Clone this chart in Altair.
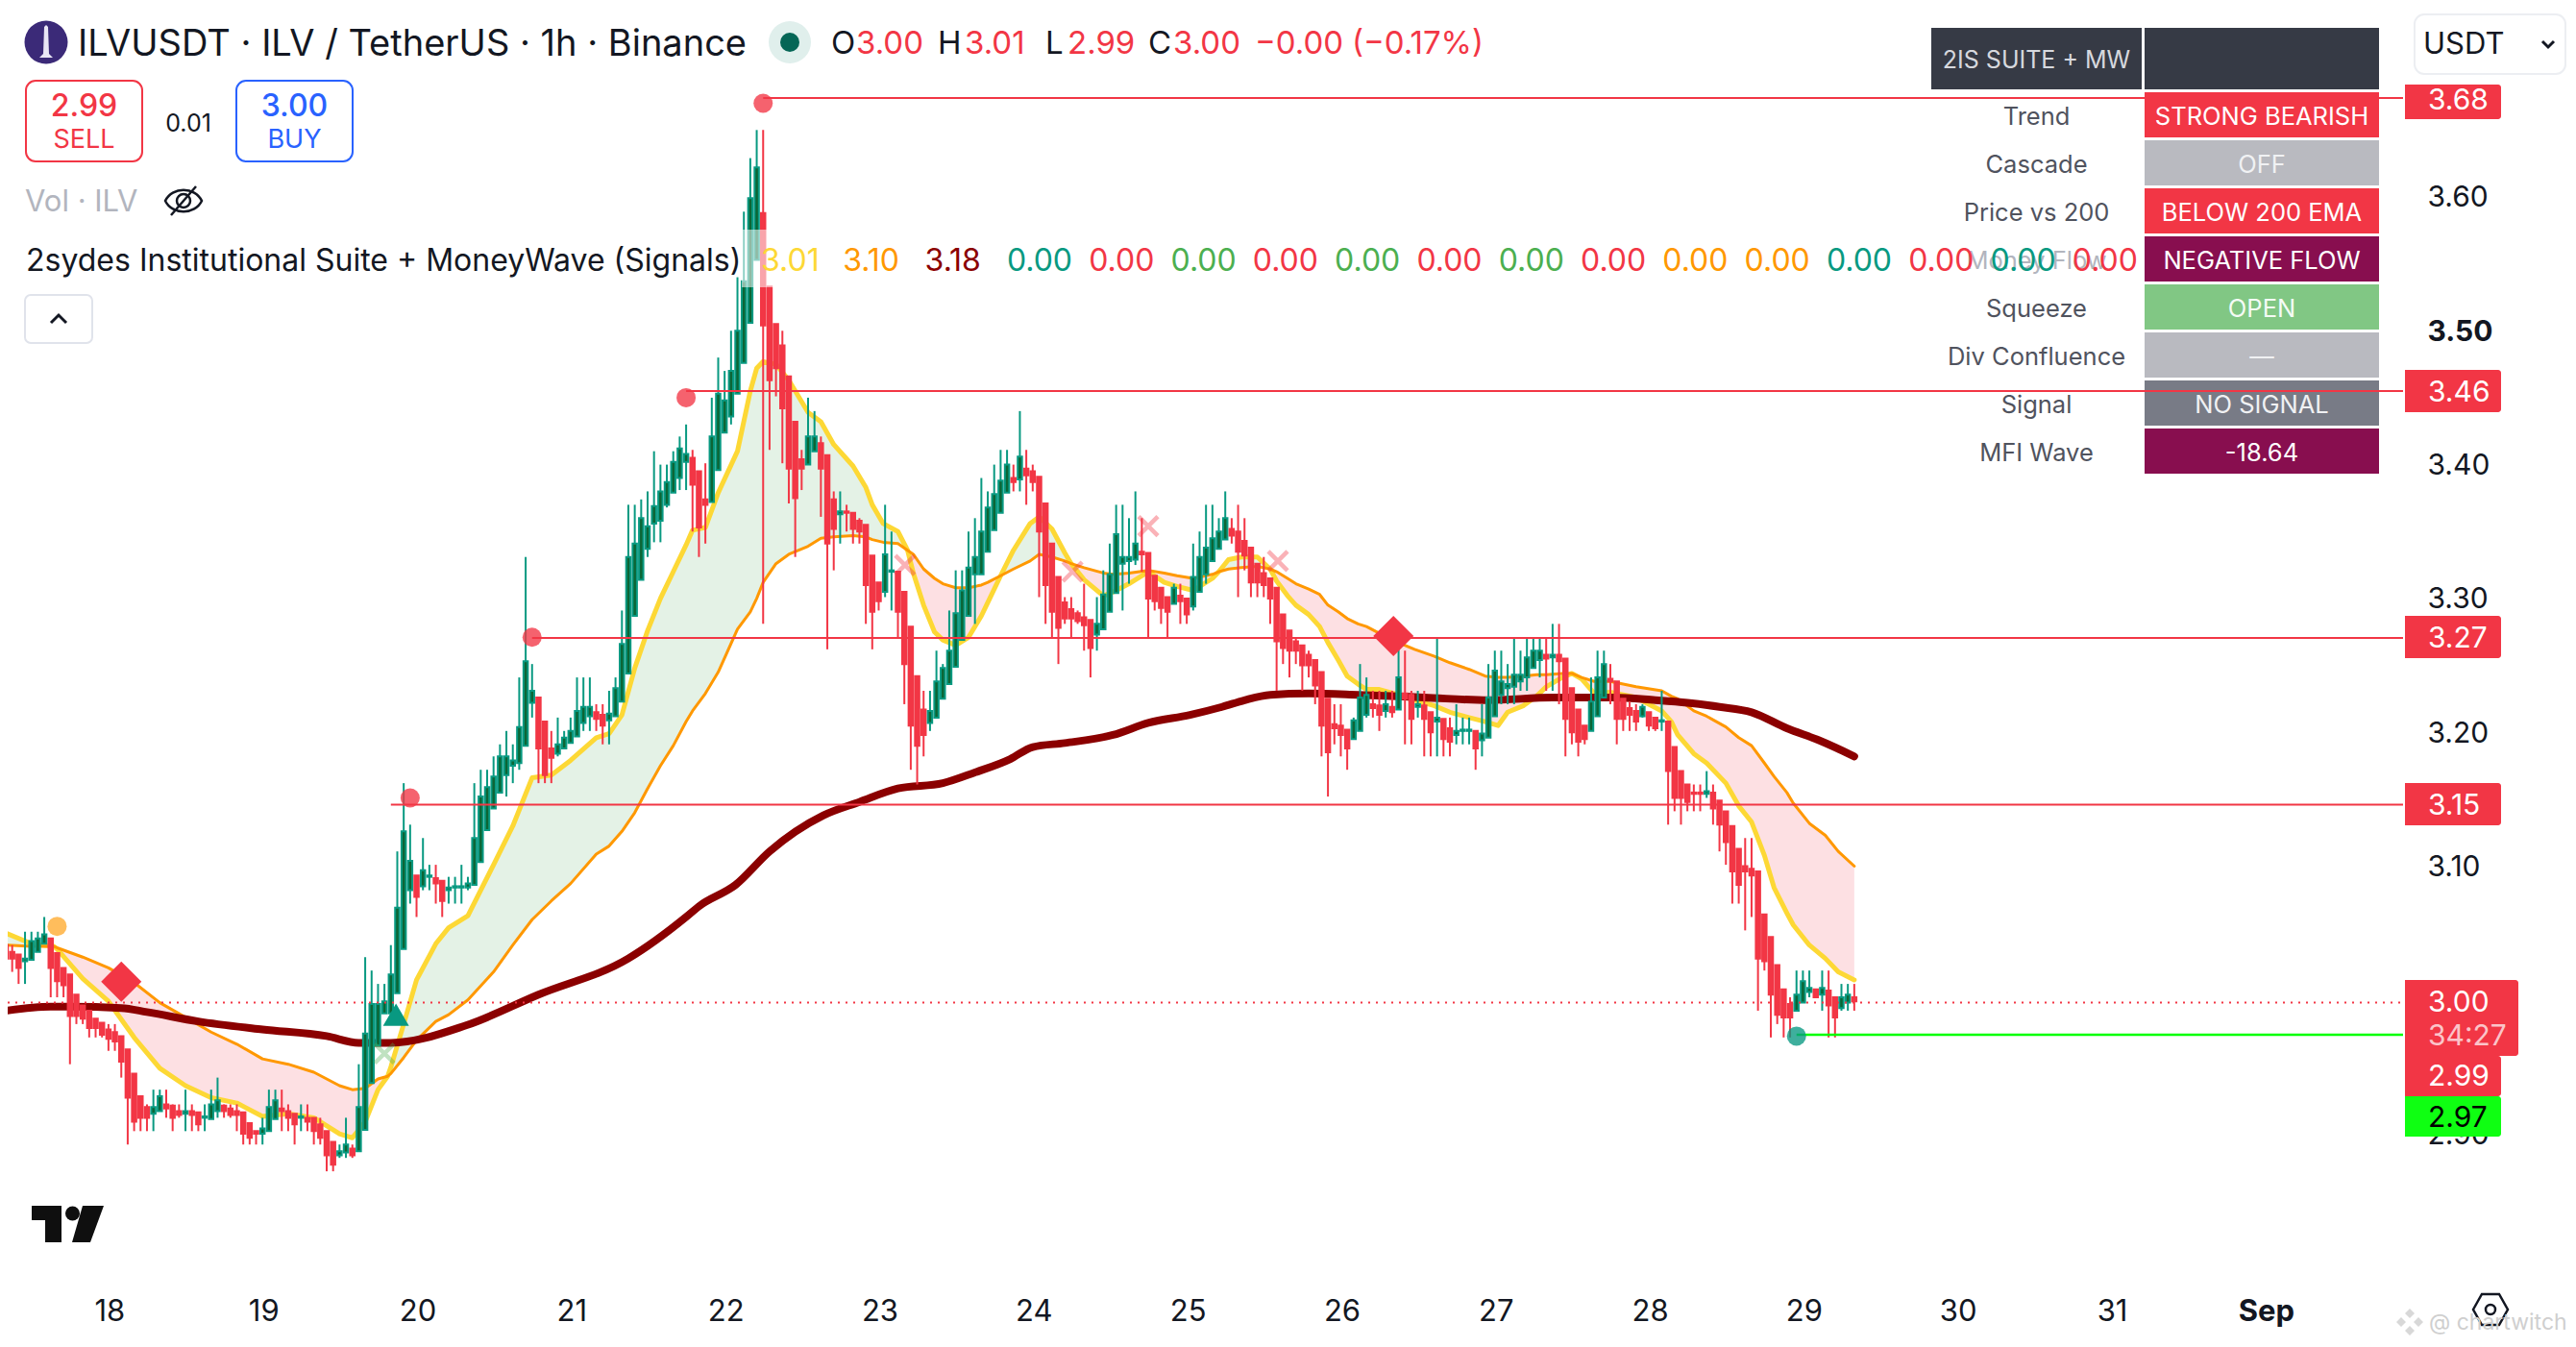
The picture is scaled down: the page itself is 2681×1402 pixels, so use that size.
import altair as alt
import pandas as pd

opens = [
3.041,3.036,3.034,3.029,3.030,3.036,3.042,3.046,3.035,3.024,
3.019,3.004,2.996,2.992,2.986,2.983,2.978,2.976,2.973,2.963,
2.945,2.928,2.920,2.915,2.917,2.922,2.921,2.917,2.915,2.917,
2.916,2.912,2.911,2.917,2.921,2.919,2.917,2.916,2.908,2.902,
2.900,2.902,2.911,2.919,2.917,2.915,2.912,2.912,2.912,2.907,
2.902,2.894,2.884,2.886,2.889,2.887,2.903,2.938,2.966,2.990,
2.990,3.005,3.038,3.082,3.093,3.085,3.092,3.091,3.089,3.082,
3.084,3.084,3.084,3.086,3.103,3.127,3.143,3.155,3.168,3.175,
3.177,3.190,3.222,3.226,3.208,3.188,3.184,3.188,3.192,3.197,
3.207,3.212,3.215,3.213,3.209,3.212,3.223,3.244,3.287,3.314,
3.337,3.356,3.358,3.370,3.379,3.390,3.402,3.405,3.395,3.374,
3.372,3.396,3.424,3.436,3.453,3.476,3.506,3.553,3.588,3.533,
3.505,3.489,3.466,3.432,3.404,3.400,3.410,3.416,3.407,3.374,
3.363,3.365,3.364,3.358,3.355,3.332,3.312,3.305,3.320,3.320,
3.305,3.279,3.242,3.217,3.207,3.211,3.225,3.236,3.249,3.269,
3.287,3.318,3.318,3.335,3.351,3.364,3.379,3.390,3.389,3.397,
3.395,3.391,3.371,3.341,3.316,3.297,3.292,3.289,3.286,3.284,
3.273,3.277,3.290,3.304,3.326,3.328,3.329,3.335,3.334,3.317,
3.308,3.301,3.296,3.302,3.300,3.294,3.305,3.318,3.328,3.337,
3.344,3.352,3.350,3.343,3.338,3.326,3.319,3.315,3.308,3.288,
3.276,3.268,3.265,3.258,3.254,3.245,3.225,3.206,3.205,3.202,
3.195,3.201,3.213,3.221,3.220,3.216,3.219,3.217,3.229,3.228,
3.219,3.220,3.215,3.208,3.210,3.203,3.198,3.201,3.201,3.201,
3.194,3.196,3.212,3.228,3.233,3.234,3.238,3.241,3.248,3.254,
3.258,3.256,3.258,3.255,3.233,3.217,3.205,3.201,3.212,3.226,
3.240,3.238,3.225,3.218,3.216,3.212,3.215,3.211,3.208,3.208,
3.189,3.171,3.161,3.155,3.155,3.154,3.155,3.149,3.141,3.130,
3.113,3.100,3.098,3.096,3.064,3.047,3.026,3.008,2.997,2.992,
2.998,3.006,3.008,3.004,3.007,3.002,2.994,2.998,3.002]
highs = [
3.042,3.041,3.034,3.051,3.051,3.051,3.062,3.046,3.035,3.024,
3.019,3.004,2.996,2.992,2.986,2.983,2.982,2.982,2.973,2.963,
2.945,2.928,2.922,2.933,2.933,2.933,2.922,2.922,2.933,2.922,
2.916,2.922,2.933,2.942,2.922,2.922,2.922,2.916,2.908,2.902,
2.912,2.933,2.933,2.933,2.922,2.915,2.922,2.922,2.912,2.912,
2.902,2.894,2.892,2.912,2.892,2.952,3.032,3.022,3.012,3.012,
3.041,3.111,3.162,3.131,3.093,3.121,3.101,3.101,3.089,3.092,
3.092,3.101,3.092,3.162,3.172,3.172,3.182,3.191,3.201,3.191,
3.241,3.331,3.251,3.226,3.208,3.201,3.211,3.201,3.211,3.241,
3.241,3.241,3.221,3.221,3.231,3.241,3.291,3.370,3.370,3.374,
3.380,3.410,3.400,3.400,3.410,3.421,3.430,3.411,3.395,3.401,
3.450,3.480,3.470,3.500,3.540,3.589,3.629,3.650,3.650,3.533,
3.505,3.500,3.466,3.432,3.411,3.450,3.440,3.421,3.407,3.380,
3.380,3.370,3.364,3.360,3.355,3.332,3.312,3.370,3.350,3.320,
3.305,3.279,3.242,3.231,3.231,3.261,3.251,3.291,3.321,3.321,
3.350,3.360,3.390,3.380,3.400,3.411,3.411,3.400,3.440,3.411,
3.400,3.391,3.371,3.341,3.316,3.301,3.301,3.291,3.311,3.284,
3.301,3.321,3.341,3.370,3.370,3.360,3.380,3.360,3.334,3.317,
3.308,3.301,3.311,3.311,3.300,3.341,3.350,3.370,3.370,3.360,
3.380,3.360,3.370,3.360,3.338,3.326,3.331,3.315,3.308,3.288,
3.276,3.271,3.265,3.261,3.254,3.245,3.225,3.221,3.221,3.202,
3.211,3.251,3.241,3.231,3.231,3.231,3.231,3.271,3.261,3.231,
3.231,3.231,3.215,3.271,3.210,3.211,3.221,3.211,3.211,3.201,
3.221,3.251,3.261,3.261,3.251,3.271,3.261,3.271,3.271,3.271,
3.271,3.281,3.281,3.255,3.233,3.217,3.205,3.241,3.261,3.261,
3.251,3.238,3.225,3.223,3.221,3.221,3.215,3.211,3.231,3.208,
3.189,3.171,3.161,3.161,3.161,3.171,3.161,3.149,3.141,3.130,
3.113,3.121,3.121,3.096,3.064,3.047,3.026,3.008,3.002,3.022,
3.022,3.022,3.008,3.022,3.022,3.002,3.012,3.012,3.012]
lows = [
3.021,3.021,3.012,3.012,3.030,3.036,3.042,3.002,3.002,3.002,
2.952,2.982,2.982,2.972,2.972,2.972,2.962,2.962,2.942,2.892,
2.902,2.902,2.902,2.902,2.917,2.912,2.902,2.912,2.902,2.902,
2.902,2.902,2.911,2.912,2.912,2.912,2.902,2.892,2.892,2.892,
2.892,2.902,2.911,2.902,2.902,2.892,2.902,2.902,2.892,2.892,
2.872,2.872,2.882,2.882,2.882,2.887,2.903,2.938,2.966,2.990,
2.990,3.005,3.038,3.072,3.062,3.082,3.082,3.072,3.062,3.072,
3.072,3.072,3.082,3.086,3.103,3.127,3.143,3.155,3.152,3.162,
3.172,3.190,3.211,3.162,3.162,3.162,3.182,3.188,3.192,3.197,
3.201,3.201,3.201,3.191,3.191,3.212,3.223,3.244,3.287,3.314,
3.331,3.342,3.342,3.368,3.379,3.381,3.381,3.350,3.331,3.341,
3.372,3.396,3.424,3.430,3.453,3.476,3.506,3.553,3.281,3.411,
3.451,3.401,3.371,3.331,3.381,3.400,3.410,3.361,3.262,3.321,
3.341,3.350,3.341,3.341,3.281,3.262,3.291,3.301,3.291,3.271,
3.221,3.172,3.161,3.182,3.201,3.211,3.225,3.236,3.249,3.269,
3.287,3.281,3.318,3.335,3.351,3.364,3.379,3.380,3.380,3.370,
3.380,3.301,3.281,3.271,3.251,3.281,3.271,3.281,3.261,3.241,
3.261,3.277,3.290,3.304,3.291,3.311,3.325,3.320,3.271,3.291,
3.281,3.271,3.296,3.281,3.281,3.291,3.305,3.311,3.328,3.337,
3.344,3.341,3.301,3.321,3.301,3.301,3.301,3.281,3.231,3.251,
3.241,3.251,3.231,3.241,3.221,3.182,3.152,3.191,3.182,3.172,
3.195,3.201,3.211,3.211,3.201,3.211,3.211,3.217,3.191,3.191,
3.211,3.182,3.182,3.182,3.182,3.182,3.191,3.191,3.191,3.172,
3.182,3.196,3.212,3.221,3.221,3.221,3.231,3.231,3.248,3.241,
3.231,3.231,3.221,3.182,3.191,3.182,3.191,3.201,3.212,3.226,
3.221,3.191,3.201,3.201,3.201,3.211,3.201,3.201,3.201,3.131,
3.141,3.131,3.141,3.141,3.141,3.151,3.131,3.111,3.101,3.072,
3.072,3.052,3.062,2.992,3.022,2.972,2.982,2.972,2.972,2.992,
2.998,3.002,3.002,2.992,2.972,2.972,2.992,2.992,2.992]
closes = [
3.031,3.031,3.024,3.031,3.044,3.046,3.049,3.024,3.014,3.011,
2.988,2.988,2.986,2.979,2.979,2.974,2.971,2.969,2.954,2.927,
2.909,2.912,2.912,2.920,2.928,2.919,2.912,2.914,2.917,2.914,
2.907,2.913,2.922,2.925,2.917,2.914,2.914,2.900,2.897,2.900,
2.904,2.920,2.925,2.917,2.912,2.907,2.913,2.909,2.902,2.897,
2.884,2.877,2.887,2.892,2.884,2.920,2.975,2.997,2.997,2.999,
3.019,3.069,3.126,3.104,3.077,3.097,3.093,3.087,3.074,3.084,
3.085,3.085,3.087,3.121,3.152,3.159,3.167,3.182,3.182,3.179,
3.204,3.253,3.231,3.188,3.168,3.181,3.191,3.196,3.201,3.216,
3.219,3.219,3.210,3.205,3.214,3.233,3.266,3.331,3.341,3.360,
3.354,3.369,3.380,3.387,3.402,3.412,3.408,3.385,3.353,3.370,
3.421,3.453,3.448,3.470,3.500,3.537,3.599,3.622,3.504,3.463,
3.472,3.442,3.397,3.375,3.397,3.421,3.421,3.397,3.341,3.352,
3.365,3.364,3.352,3.350,3.310,3.290,3.298,3.333,3.321,3.290,
3.251,3.205,3.190,3.198,3.216,3.238,3.248,3.261,3.289,3.306,
3.323,3.331,3.350,3.368,3.378,3.388,3.400,3.387,3.406,3.392,
3.387,3.350,3.310,3.290,3.278,3.285,3.285,3.283,3.280,3.263,
3.281,3.303,3.318,3.348,3.331,3.331,3.341,3.333,3.300,3.298,
3.293,3.290,3.308,3.298,3.288,3.316,3.331,3.338,3.345,3.350,
3.360,3.347,3.335,3.332,3.312,3.312,3.310,3.300,3.268,3.263,
3.261,3.261,3.250,3.250,3.235,3.205,3.185,3.203,3.198,3.188,
3.209,3.226,3.228,3.218,3.213,3.221,3.215,3.241,3.225,3.210,
3.221,3.210,3.200,3.211,3.195,3.193,3.201,3.202,3.202,3.188,
3.199,3.226,3.246,3.238,3.236,3.243,3.243,3.256,3.261,3.261,
3.255,3.258,3.253,3.210,3.200,3.193,3.195,3.223,3.241,3.251,
3.238,3.210,3.210,3.213,3.208,3.219,3.205,3.203,3.209,3.171,
3.151,3.151,3.148,3.154,3.154,3.156,3.143,3.131,3.118,3.096,
3.086,3.096,3.093,3.031,3.029,3.004,2.989,2.987,2.987,3.004,
3.014,3.009,3.002,3.009,2.996,2.987,3.002,3.004,2.999]

ema_k = [0,4,7.5,8,12,16,20,24,28,32,36,40,44,48,52,54,56,58,59.5,60,62,64,67,69,72,76,79,82,85,88,92,94,96,98,100,102,104,106,107,109,111,114,116,117,118,120,122,125,127,129,132,134,135,136.7,139,140.5,141.4,143,144.7,146,148,150,152,153,155,157,159.6,161,163,165,166,168,171,172.6,175,178,180.5,182.5,185,188,189,190.5,192.5,195,197,198,199.7,201,203,204.7,206,207.6,209,210.7,212,214,217,219.5,222.5,225,228,230.5,232.5,234,236.5,238.5,240,242.5,244,245.5,247.5,250,254,258,259.5,260.5,263,265,268,270,272,274,275.5,277.5,278.5,281,283.5,285.5,288]
ema_fast = [3.050,3.042,3.040,3.038,3.016,2.999,2.972,2.949,2.936,2.927,2.923,2.913,2.915,2.912,2.900,2.897,2.909,2.933,2.943,2.950,2.982,3.015,3.042,3.054,3.063,3.101,3.130,3.166,3.168,3.179,3.196,3.199,3.213,3.248,3.276,3.300,3.320,3.340,3.351,3.353,3.379,3.410,3.455,3.472,3.477,3.475,3.463,3.439,3.432,3.415,3.399,3.383,3.370,3.356,3.350,3.336,3.319,3.295,3.275,3.269,3.265,3.271,3.287,3.297,3.317,3.336,3.356,3.361,3.352,3.334,3.326,3.314,3.302,3.305,3.311,3.320,3.312,3.309,3.306,3.315,3.320,3.329,3.331,3.331,3.322,3.313,3.302,3.295,3.288,3.279,3.267,3.254,3.242,3.236,3.232,3.232,3.228,3.224,3.220,3.215,3.211,3.208,3.205,3.215,3.220,3.227,3.234,3.241,3.244,3.240,3.229,3.230,3.226,3.216,3.208,3.198,3.184,3.177,3.162,3.145,3.133,3.108,3.084,3.065,3.056,3.041,3.031,3.021,3.015]
ema_slow = [3.041,3.040,3.040,3.039,3.032,3.024,3.013,2.998,2.987,2.976,2.967,2.956,2.952,2.946,2.936,2.933,2.934,2.941,2.943,2.945,2.957,2.970,2.984,2.989,3.000,3.021,3.041,3.060,3.074,3.087,3.109,3.115,3.126,3.140,3.158,3.175,3.190,3.208,3.216,3.229,3.245,3.277,3.290,3.300,3.312,3.326,3.333,3.339,3.345,3.346,3.347,3.346,3.344,3.342,3.341,3.336,3.333,3.322,3.315,3.311,3.308,3.308,3.310,3.312,3.317,3.322,3.328,3.333,3.331,3.328,3.326,3.323,3.319,3.318,3.319,3.321,3.319,3.317,3.315,3.318,3.320,3.322,3.323,3.324,3.322,3.320,3.315,3.311,3.307,3.303,3.295,3.290,3.285,3.281,3.279,3.274,3.267,3.262,3.257,3.252,3.247,3.242,3.241,3.241,3.242,3.243,3.243,3.244,3.244,3.241,3.238,3.238,3.234,3.231,3.227,3.225,3.216,3.212,3.204,3.196,3.190,3.177,3.167,3.155,3.147,3.132,3.123,3.111,3.100]
bull_spans = [(0,7.5),(59.5,140.5),(155,166),(189,197)]
bear_spans = [(7.5,59.5),(140.5,155),(166,189),(197,288)]

ema200_k = [0,7,10,18,22,30,40,50,55,57,60,71.7,83,97,106,108,113.7,119,127.4,133,139,146,151,156.5,160,165,172.5,178,184.5,189.5,193,197,203,210.7,221,231,241,250.5,257,262,267,272,277.5,282.5,288]
ema200 = [2.992,2.995,2.995,2.994,2.991,2.984,2.978,2.973,2.968,2.968,2.968,2.981,3.004,3.031,3.062,3.070,3.086,3.111,3.138,3.148,3.158,3.162,3.170,3.180,3.189,3.192,3.198,3.207,3.213,3.219,3.224,3.228,3.229,3.228,3.226,3.224,3.226,3.226,3.224,3.222,3.219,3.215,3.203,3.194,3.182]

level_prices = [3.674,3.455,3.2705,3.146]
level_starts = [118,106,82,60]
level_end = 373.5
support_price = [2.974]
support_start = [279]
last_price = [2.998]

pivot_k = [118,106,82,63]
pivot_p = [3.670,3.450,3.271,3.151]
low_k = [279]; low_p = [2.973]
orange_k = [8]; orange_p = [3.055]
diamond_k = [18,216.2]; diamond_p = [3.0137,3.272]
tri_k = [60.8]; tri_p = [2.989]
xred_k = [140.1,166.2,178,198.2]; xred_p = [3.325,3.320,3.354,3.328]
xgreen_k = [59]; xgreen_p = [2.960]

day_ks = [16,40,64,88,112,136,160,184,208,232,256,280,304,328,352]
day_labels = ['18','19','20','21','22','23','24','25','26','27','28','29','30','31','Sep']
price_ticks = [2.9,3.0,3.1,3.2,3.3,3.4,3.5,3.6]

legend_vals = ['3.01','3.10','3.18']+['0.00']*14
legend_cols = ['#fdd835','#ff9800','#8b0000','#089981','#f23645','#4caf50','#f23645','#4caf50','#f23645','#4caf50','#f23645','#ff9800','#ff9800','#089981','#f23645','#089981','#f23645']

table_labels = ['Trend','Cascade','Price vs 200','Money Flow','Squeeze','Div Confluence','Signal','MFI Wave']
table_values = ['STRONG BEARISH','OFF','BELOW 200 EMA','NEGATIVE FLOW','OPEN','—','NO SIGNAL','-18.64']
table_fills = ['#f23645','#b9bac0','#f23645','#880e4f','#81c784','#b9bac0','#787b86','#880e4f']
table_text = ['#ffffff','#f0f1f3','#ffffff','#ffffff','#f4fbf5','#f0f1f3','#f0f1f3','#ffffff']

W, H = 2665, 1384
FONT = 'Inter'
GREEN, RED = '#089981', '#f23645'
xs = alt.Scale(domain=[0.2994, 399.25], nice=False, zero=False, padding=0)
ys = alt.Scale(domain=[2.7479, 3.7414], nice=False, zero=False, padding=0)
dummy = pd.DataFrame({'a':[0]})

x_axis = alt.Axis(values=day_ks, orient='bottom', domain=False, ticks=False, grid=False, zindex=0,
    labelExpr="%s[indexof(%s,datum.value)]" % (day_labels, day_ks),
    labelFont=FONT, labelFontSize=31, labelColor='#131722', labelPadding=-27, labelOffset=1,
    labelBaseline='middle', labelFontWeight={'condition':{'test':"datum.value==352",'value':'bold'},'value':'normal'}, labelOverlap=False)
y_axis = alt.Axis(values=price_ticks, orient='right', domain=False, ticks=False, grid=False, format='.2f', zindex=0,
    labelFont=FONT, labelFontSize=30, labelColor='#131722', labelPadding=-147, labelAlign='left', labelOffset=1,
    labelFontWeight={'condition':{'test':"datum.value==3.5",'value':'bold'},'value':'normal'}, labelOverlap=False)

def X(f):
    return alt.X(f, type='quantitative', scale=xs, axis=x_axis, title=None)
def Y(f):
    return alt.Y(f, type='quantitative', scale=ys, axis=y_axis, title=None)

def txt(x, y, s, size=30, color='#131722', weight=400, align='left', font=FONT):
    return alt.Chart(dummy).mark_text(text=s, align=align, baseline='middle', font=font,
        fontSize=size, color=color, fontWeight=weight).encode(x=alt.value(x-8), y=alt.value(y-6))

def box(x0, y0, x1, y1, fill, stroke=None, sw=0, r=0, op=1.0, rr=0):
    kw = {}
    if stroke: kw.update(stroke=stroke, strokeWidth=sw)
    if r: kw.update(cornerRadius=r)
    if rr: kw.update(cornerRadiusTopRight=rr, cornerRadiusBottomRight=rr)
    return alt.Chart(dummy).mark_rect(fill=fill, opacity=op, **kw).encode(
        x=alt.value(x0-8), x2=alt.value(x1-8), y=alt.value(y0-8), y2=alt.value(y1-8))

def icon(cx, cy, path, stroke=None, fill=None, sw=0):
    kw = dict(shape=path, size=4, opacity=1)
    if fill:
        kw.update(filled=True, fill=fill)
    else:
        kw.update(filled=False, fill='transparent')
    if stroke: kw.update(stroke=stroke, strokeWidth=sw)
    else: kw.update(strokeWidth=0)
    return alt.Chart(dummy).mark_point(**kw).encode(x=alt.value(cx-8), y=alt.value(cy-8))

def dot(cx, cy, d, fill, stroke=None, sw=0):
    kw = dict(shape='circle', size=d*d, opacity=1, filled=True, fill=fill)
    if stroke: kw.update(stroke=stroke, strokeWidth=sw, filled=False)
    return alt.Chart(dummy).mark_point(**kw).encode(x=alt.value(cx-8), y=alt.value(cy-8))

layers = []

# table underlay
layers.append(box(2010,29,2229,93,'#363a45'))
layers.append(box(2232,29,2476,93,'#363a45'))
layers.append(txt(2119.5,61,'2IS SUITE + MW',size=25,color='#d6d8de',align='center'))
for i,(lab,val,fc,tc) in enumerate(zip(table_labels,table_values,table_fills,table_text)):
    y0 = 96+50*i
    layers.append(box(2232,y0,2476,y0+47,fc))
    lc = '#b2b5be' if lab=='Money Flow' else '#50535e'
    layers.append(txt(2119.5,y0+24,lab,size=25.5,color=lc,align='center'))
    layers.append(txt(2354,y0+24,val,size=25.5,color=tc,align='center'))

# price bands
df_ema = pd.DataFrame({'k':ema_k,'fast':ema_fast,'slow':ema_slow})
def band(spans, col):
    frames = []
    for i,(a,b) in enumerate(spans):
        f = df_ema[(df_ema.k>=a)&(df_ema.k<=b)].copy(); f['seg']=i; frames.append(f)
    return alt.Chart(pd.concat(frames)).mark_area(color=col, opacity=1, interpolate='linear').encode(
        x=X('k'), y=Y('fast'), y2='slow', detail='seg:N')
layers.append(band(bull_spans,'#e4f2e6'))
layers.append(band(bear_spans,'#fde0e3'))

layers.append(alt.Chart(df_ema).mark_line(color='#fdd835',strokeWidth=5,strokeCap='round',strokeJoin='round').encode(x=X('k'),y=Y('fast')))
layers.append(alt.Chart(df_ema).mark_line(color='#ff9800',strokeWidth=3,strokeCap='round',strokeJoin='round').encode(x=X('k'),y=Y('slow')))
df_200 = pd.DataFrame({'k':ema200_k,'v':ema200})
layers.append(alt.Chart(df_200).mark_line(color='#8b0000',strokeWidth=8,strokeCap='round',strokeJoin='round',interpolate='monotone').encode(x=X('k'),y=Y('v')))

# candles
df = pd.DataFrame({'o':opens,'h':highs,'l':lows,'c':closes})
df['k'] = range(len(df))
df['dir'] = ['up' if c>=o else 'down' for o,c in zip(opens,closes)]
dom = ['up','down']
layers.append(alt.Chart(df).mark_rule(strokeWidth=2).encode(
    x=X('k'), y=Y('l'), y2='h',
    color=alt.Color('dir:N',scale=alt.Scale(domain=dom,range=[GREEN,RED]),legend=None)))
layers.append(alt.Chart(df).mark_bar(size=4.5,strokeWidth=2).encode(
    x=X('k'), y=Y('o'), y2='c',
    fill=alt.Fill('dir:N',scale=alt.Scale(domain=dom,range=['#0c6535',RED]),legend=None),
    stroke=alt.Stroke('dir:N',scale=alt.Scale(domain=dom,range=[GREEN,RED]),legend=None)))

# level lines
df_lv = pd.DataFrame({'p':level_prices,'s':level_starts}); df_lv['e']=level_end
layers.append(alt.Chart(df_lv).mark_rule(color=RED,strokeWidth=2).encode(x=X('s'),x2='e',y=Y('p')))
df_sp = pd.DataFrame({'p':support_price,'s':support_start}); df_sp['e']=level_end
layers.append(alt.Chart(df_sp).mark_rule(color='#00ff00',strokeWidth=2.5).encode(x=X('s'),x2='e',y=Y('p')))
df_lp = pd.DataFrame({'p':last_price,'s':[0.3]}); df_lp['e']=level_end
layers.append(alt.Chart(df_lp).mark_rule(color=RED,strokeWidth=2,strokeDash=[2,6]).encode(x=X('s'),x2='e',y=Y('p')))

# markers
def pts(ks, ps, **kw):
    return alt.Chart(pd.DataFrame({'k':ks,'p':ps})).mark_point(**kw).encode(x=X('k'),y=Y('p'))
layers.append(pts(pivot_k,pivot_p,shape='circle',size=400,filled=True,color=RED,opacity=0.78))
layers.append(pts(low_k,low_p,shape='circle',size=400,filled=True,color=GREEN,opacity=0.78))
layers.append(pts(orange_k,orange_p,shape='circle',size=400,filled=True,color='#ffa726',opacity=0.75))
layers.append(pts(diamond_k,diamond_p,shape='diamond',size=1764,filled=True,color=RED,opacity=1))
layers.append(pts(tri_k,tri_p,shape='triangle-up',size=729,filled=True,color=GREEN,opacity=1))
XP = 'M-1,-1L1,1M-1,1L1,-1'
layers.append(pts(xred_k,xred_p,shape=XP,size=400,filled=False,stroke='#f23645',strokeWidth=4.5,opacity=0.38))
layers.append(pts(xgreen_k,xgreen_p,shape=XP,size=400,filled=False,stroke='#4caf50',strokeWidth=4.5,opacity=0.35))

# header legend wash
layers.append(box(772,239,805,299,'#ffffff',op=0.55))

# price tags
for (lab,y0,y1) in [('3.68',88,124),('3.46',385,429),('3.27',641,685),('3.15',815,859)]:
    layers.append(box(2503,y0,2603,y1,RED,rr=3))
    layers.append(txt(2527,{'3.68':103,'3.46':407,'3.27':663,'3.15':837}[lab],lab,color='#ffffff'))
layers.append(box(2503,1020,2621,1099,RED,rr=3))
layers.append(txt(2527,1042,'3.00',color='#ffffff'))
layers.append(txt(2527,1077,'34:27',color='#fbc4c9'))
layers.append(box(2503,1099,2603,1141,RED,rr=3))
layers.append(txt(2527,1119,'2.99',color='#ffffff'))
layers.append(box(2503,1141,2603,1183,'#0fff12',rr=3))
layers.append(txt(2527,1162,'2.97',color='#000000'))

# header text
layers.append(dot(48,44,45,'#3b2a78'))
layers.append(icon(48,44,'M-2,-16 L0,-18 L2,-16 L3,12 L7,16 L-7,16 L-3,12 Z',fill='#e9e6f5'))
layers.append(txt(81,45,'ILVUSDT · ILV / TetherUS · 1h · Binance',size=38))
layers.append(dot(822,44,44,'#e0efec'))
layers.append(dot(822,44,20,'#056656'))
for x,s,c in [(865,'O','#131722'),(891,'3.00',RED),(976,'H','#131722'),(1004,'3.01',RED),(1088,'L','#131722'),(1111,'2.99',RED),(1195,'C','#131722'),(1221,'3.00',RED),(1306,'−0.00',RED),(1407,'(−0.17%)',RED)]:
    layers.append(txt(x,44,s,size=33,color=c))

layers.append(box(27,84,148,168,'#ffffff',stroke=RED,sw=2,r=10))
layers.append(txt(87.5,109,'2.99',size=32,color=RED,weight=500,align='center'))
layers.append(txt(87.5,144,'SELL',size=27,color=RED,align='center'))
layers.append(txt(196,127,'0.01',size=25,align='center'))
layers.append(box(246,84,367,168,'#ffffff',stroke='#2962ff',sw=2,r=10))
layers.append(txt(306.5,109,'3.00',size=32,color='#2962ff',weight=500,align='center'))
layers.append(txt(306.5,144,'BUY',size=27,color='#2962ff',align='center'))

layers.append(txt(26,209,'Vol · ILV',size=31,color='#b2b5be'))
layers.append(icon(191,209,'M-19,0 C-12,-15 12,-15 19,0 C12,15 -12,15 -19,0 Z',stroke='#131722',sw=2.5))
layers.append(dot(191,209,14,'#ffffff',stroke='#131722',sw=2.5))
layers.append(icon(191,209,'M-13,15 L13,-15',stroke='#131722',sw=2.5))

layers.append(txt(27,270,'2sydes Institutional Suite + MoneyWave (Signals)',size=32))
for i,(v,c) in enumerate(zip(legend_vals,legend_cols)):
    layers.append(txt(792+85.3*i,270,v,size=32,color=c))
layers.append(box(26,307,96,357,'#ffffff',stroke='#e0e3eb',sw=2,r=6))
layers.append(icon(61,332,'M-8,4 L0,-4 L8,4',stroke='#131722',sw=3))

layers.append(box(2513,15,2670,77,'#ffffff',stroke='#eceef2',sw=2,r=10))
layers.append(txt(2522,45,'USDT',size=31))
layers.append(icon(2652,46,'M-6,-3 L0,3 L6,-3',stroke='#131722',sw=3))

# logo bottom-left
layers.append(icon(70,1274,'M-37,-19 L-6,-19 L-6,19 L-23,19 L-23,-4 L-37,-4 Z M16,-19 L38,-19 L24,19 L5,19 Z',fill='#0f0f0f'))
layers.append(dot(75.5,1263,15,'#0f0f0f'))

# settings + watermark
layers.append(icon(2592,1363,'M-18,0 L-9,-16 L9,-16 L18,0 L9,16 L-9,16 Z',stroke='#131722',sw=2.5))
layers.append(dot(2592,1363,10,'#ffffff',stroke='#131722',sw=2.5))
layers.append(txt(2528,1375,'@ chartwitch',size=23,color='#cfcfcf'))
layers.append(icon(2508,1376,'M0,-14 L5,-9 L0,-4 L-5,-9 Z M-14,0 L-9,-5 L-4,0 L-9,5 Z M14,0 L9,-5 L4,0 L9,5 Z M0,14 L5,9 L0,4 L-5,9 Z',fill='#d8d8d8'))

chart = alt.layer(*layers).properties(width=W,height=H,padding=0,background='#ffffff',
    autosize=alt.AutoSizeParams(type='none')).configure_view(stroke=None)
chart.save("out.html", embed_options={"renderer":"svg","actions":False})
